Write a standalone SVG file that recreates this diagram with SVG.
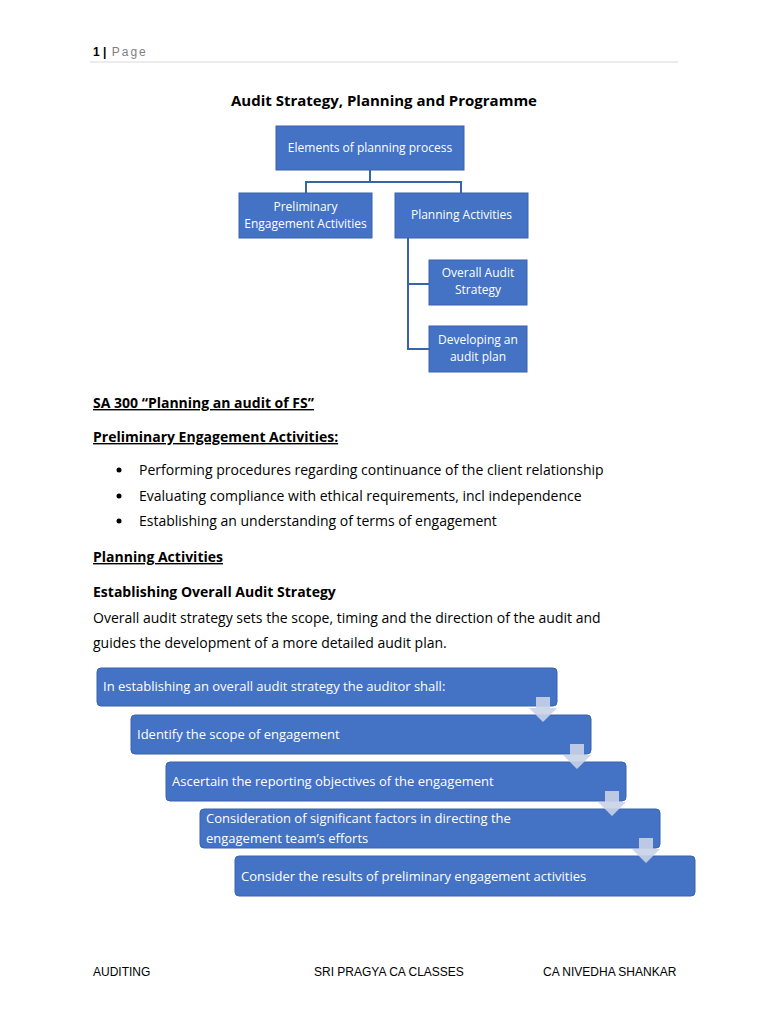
<svg xmlns="http://www.w3.org/2000/svg" width="768" height="1024" viewBox="0 0 768 1024">
<style>
.t{font-family:"Open Sans","DejaVu Sans",sans-serif;fill:#000}
.b{fill:#4472c4;stroke:#3a63ad;stroke-width:1}
.w{font-family:"Open Sans","DejaVu Sans",sans-serif;fill:#fff;font-size:12px}
.ww{font-family:"Open Sans","DejaVu Sans",sans-serif;fill:#fff;font-size:13px}
.c{stroke:#3a63ad;stroke-width:2;fill:none}
.a{fill:#c9d3e8;opacity:0.9}
.f{font-family:"Liberation Sans",sans-serif;font-size:12px;fill:#000}
</style>
<rect width="768" height="1024" fill="#fff"/>
<text x="93" y="56" class="f"><tspan font-weight="bold">1 |</tspan><tspan fill="#7f7f7f" letter-spacing="2"> Page</tspan></text>
<line x1="90" y1="62" x2="678" y2="62" stroke="#d9d9d9"/>
<text x="384" y="106" class="t" font-size="15" font-weight="bold" text-anchor="middle">Audit Strategy, Planning and Programme</text>
<g id="connectors">
<path class="c" d="M370 170V182M306 193V182H461V193M408 238V349H429M408 284H429"/>
</g>
<g id="n1"><rect class="b" x="276" y="126" width="188" height="44"/><text class="w" x="370" y="152" text-anchor="middle">Elements of planning process</text></g>
<g id="n2"><rect class="b" x="239" y="193" width="133" height="45"/><text class="w" x="305.5" y="211" text-anchor="middle">Preliminary</text><text class="w" x="305.5" y="228" text-anchor="middle" font-size="11.5">Engagement Activities</text></g>
<g id="n3"><rect class="b" x="395" y="193" width="133" height="45"/><text class="w" x="461.5" y="219" text-anchor="middle">Planning Activities</text></g>
<g id="n4"><rect class="b" x="429" y="260" width="98" height="45"/><text class="w" x="478" y="277" text-anchor="middle">Overall Audit</text><text class="w" x="478" y="294" text-anchor="middle">Strategy</text></g>
<g id="n5"><rect class="b" x="429" y="326" width="98" height="46"/><text class="w" x="478" y="344" text-anchor="middle">Developing an</text><text class="w" x="478" y="361" text-anchor="middle">audit plan</text></g>
<text x="93" y="408" class="t" font-size="14" font-weight="bold" text-decoration="underline">SA 300 “Planning an audit of FS”</text>
<text x="93" y="442" class="t" font-size="14" font-weight="bold" text-decoration="underline">Preliminary Engagement Activities:</text>
<g class="t" font-size="14">
<circle cx="119" cy="470" r="2.5"/><text x="139" y="475">Performing procedures regarding continuance of the client relationship</text>
<circle cx="119" cy="496" r="2.5"/><text x="139" y="501">Evaluating compliance with ethical requirements, incl independence</text>
<circle cx="119" cy="521" r="2.5"/><text x="139" y="526">Establishing an understanding of terms of engagement</text>
</g>
<text x="93" y="562" class="t" font-size="14" font-weight="bold" text-decoration="underline">Planning Activities</text>
<text x="93" y="597" class="t" font-size="14" font-weight="bold">Establishing Overall Audit Strategy</text>
<text x="93" y="623" class="t" font-size="14">Overall audit strategy sets the scope, timing and the direction of the audit and</text>
<text x="93" y="648" class="t" font-size="14">guides the development of a more detailed audit plan.</text>
<g id="s1"><rect class="b" x="97" y="668" width="460" height="38" rx="4"/><text class="ww" x="103" y="691">In establishing an overall audit strategy the auditor shall:</text></g>
<g id="s2"><rect class="b" x="131" y="715" width="460" height="39" rx="4"/><text class="ww" x="137" y="739">Identify the scope of engagement</text></g>
<g id="s3"><rect class="b" x="166" y="762" width="460" height="39" rx="4"/><text class="ww" x="172" y="786">Ascertain the reporting objectives of the engagement</text></g>
<g id="s4"><rect class="b" x="200" y="809" width="460" height="39" rx="4"/><text class="ww" x="206" y="823">Consideration of significant factors in directing the</text><text class="ww" x="206" y="843">engagement team’s efforts</text></g>
<g id="s5"><rect class="b" x="235" y="856" width="460" height="40" rx="4"/><text class="ww" x="241" y="881">Consider the results of preliminary engagement activities</text></g>
<g id="arrows">
<path class="a" d="M536 697h14v11h7l-14 14-14-14h7z"/>
<path class="a" d="M570 744h14v11h7l-14 14-14-14h7z"/>
<path class="a" d="M605 791h14v11h7l-14 14-14-14h7z"/>
<path class="a" d="M639 838h14v11h7l-14 14-14-14h7z"/>
</g>
<text x="93" y="976" class="f">AUDITING</text>
<text x="314" y="976" class="f">SRI PRAGYA CA CLASSES</text>
<text x="543" y="976" class="f">CA NIVEDHA SHANKAR</text>
</svg>
